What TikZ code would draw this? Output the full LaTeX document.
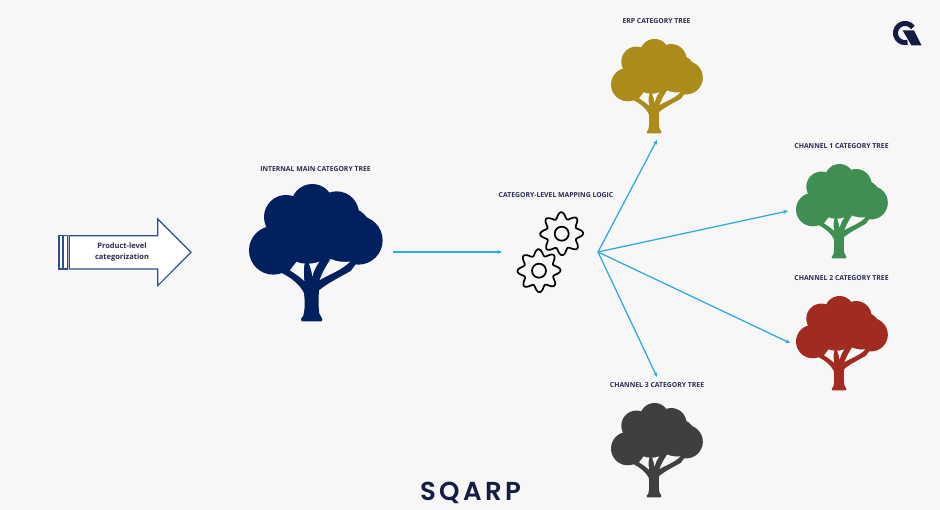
\documentclass[tikz,border=0pt]{standalone}
\usepackage{fontspec}
\setmainfont{Open Sans}
\newfontfamily\logofont[LetterSpace=13]{Poppins SemiBold}
\usetikzlibrary{arrows.meta}
\definecolor{bgc}{HTML}{F7F7F7}
\definecolor{navy}{HTML}{002060}
\definecolor{goldc}{HTML}{AB8B1A}
\definecolor{greenc}{HTML}{3F8F52}
\definecolor{redc}{HTML}{A12B20}
\definecolor{greyc}{HTML}{3F3F3F}
\definecolor{labelc}{HTML}{2B2B4F}
\definecolor{linkc}{HTML}{2EA9E0}
\definecolor{blockc}{HTML}{2F4F8A}
\definecolor{logoc}{HTML}{151B45}
\tikzset{
  lbl/.style={font=\bfseries\fontsize{6.85}{8}\selectfont,text=labelc,inner sep=0pt},
  link/.style={draw=linkc,line width=1.25pt,-{Stealth[length=4.5pt,width=4pt]}},
  gearline/.style={draw=black,line width=1.7pt,fill=none,line join=round},
  blockline/.style={draw=blockc,line width=1.2pt,fill=white,line join=miter}
}
% #1 left, #2 top, #3 scale (zoom units to px), #4 colour
\newcommand\treeart[4]{%
\begin{scope}[shift={({#1-27*#3},{#2-73*#3})},scale=#3]
  \fill[#4] (100,272) circle (73);
  \fill[#4] (138,172) circle (66);
  \fill[#4] (217,137) circle (64);
  \fill[#4] (290,162) circle (67);
  \fill[#4] (355,242) circle (73);
  \fill[#4] (322,215) circle (72);
  \fill[#4] (220,220) circle (90);
  \fill[#4] (110,335) -- (125,340) .. controls (155,355) and (180,375) .. (192,400)
     .. controls (195,425) and (195,450) .. (190,468) -- (183,478) -- (185,485)
     -- (245,485) -- (247,478) -- (238,462) .. controls (235,440) and (235,420) .. (237,392)
     .. controls (260,372) and (300,352) .. (332,334) -- (350,310) -- (330,250) -- (150,250) -- cycle;
  \fill[bgc] (150,332) .. controls (157,322) and (164,314) .. (170,306)
     .. controls (180,311) and (186,312) .. (194,311)
     .. controls (190,328) and (191,345) .. (193,364)
     .. controls (178,350) and (165,342) .. cycle;
  \fill[bgc] (207,312) .. controls (212,324) and (215,336) .. (217,350)
     .. controls (221,335) and (228,320) .. (238,306)
     .. controls (227,310) and (217,312) .. cycle;
  \fill[bgc] (272,298) .. controls (258,320) and (246,340) .. (239,361)
     .. controls (265,345) and (305,332) .. (330,306)
     .. controls (310,308) and (290,306) .. cycle;
\end{scope}}
\newcommand\gearart[2]{%
\begin{scope}[shift={(#1,#2)}]
  \draw[gearline] plot[domain=0:360,samples=121,smooth] ({(18.4+3.1*cos(8*\x+10))*cos(\x)},{(18.4+3.1*cos(8*\x+10))*sin(\x)}) -- cycle;
  \draw[gearline] (0,0) circle (7);
\end{scope}}
\begin{document}
\begin{tikzpicture}[x=1pt,y=-1pt]
\useasboundingbox (0,0) rectangle (940,510);
\fill[bgc] (0,0) rectangle (940,510);

% block arrow
\draw[blockline] (69.3,235.7) -- (157.7,235.7) -- (157.7,219) -- (191,252.3) -- (157.7,285.7) -- (157.7,269) -- (69.3,269) -- cycle;
\draw[blockline] (59,235.7) rectangle (62.3,269);
\draw[blockline] (63.6,235.7) rectangle (67.3,269);
\node[align=center,inner sep=0pt,font=\bfseries\fontsize{7.5}{11.5}\selectfont,text=labelc] (blocktext) at (122,252) {Product-level\\categorization};

% trees
\treeart{249}{184}{0.3333}{navy}
\treeart{611}{39}{0.229}{goldc}
\treeart{796}{164}{0.229}{greenc}
\treeart{796}{296}{0.229}{redc}
\treeart{611}{403}{0.229}{greyc}

% gears
\gearart{561.7}{233.7}
\gearart{539}{270.7}

% labels
\node[lbl] (lblmain) at (315.5,169) {INTERNAL MAIN CATEGORY TREE};
\node[lbl] (lblmap) at (556,195) {CATEGORY-LEVEL MAPPING LOGIC};
\node[lbl] (lblerp) at (656.5,21) {ERP CATEGORY TREE};
\node[lbl] (lblone) at (841.5,146) {CHANNEL 1 CATEGORY TREE};
\node[lbl] (lbltwo) at (841.5,278) {CHANNEL 2 CATEGORY TREE};
\node[lbl] (lblthree) at (657,385) {CHANNEL 3 CATEGORY TREE};

% connectors
\coordinate (mainout) at (393,252);
\coordinate (gearin) at (502,252);
\coordinate (hub) at (598,252);
\coordinate (toerp) at (657,140);
\coordinate (toone) at (788,211);
\coordinate (totwo) at (790,343);
\coordinate (tothree) at (657,377);
\draw[link] (mainout) -- (gearin);
\draw[link] (hub) -- (toerp);
\draw[link] (hub) -- (toone);
\draw[link] (hub) -- (totwo);
\draw[link] (hub) -- (tothree);

% logos
\node[font=\logofont\fontsize{26}{26}\selectfont,text=logoc,inner sep=0pt] (sqarp) at (470.5,492.5) {SQARP};
\draw[logoc,line width=5pt] (912.9,27.5) arc (-35:-285:9.6);
\fill[logoc] (902.7,30.5) -- (914,30.5) -- (921.5,45.5) -- (911.5,45.5) -- cycle;
\end{tikzpicture}
\end{document}
